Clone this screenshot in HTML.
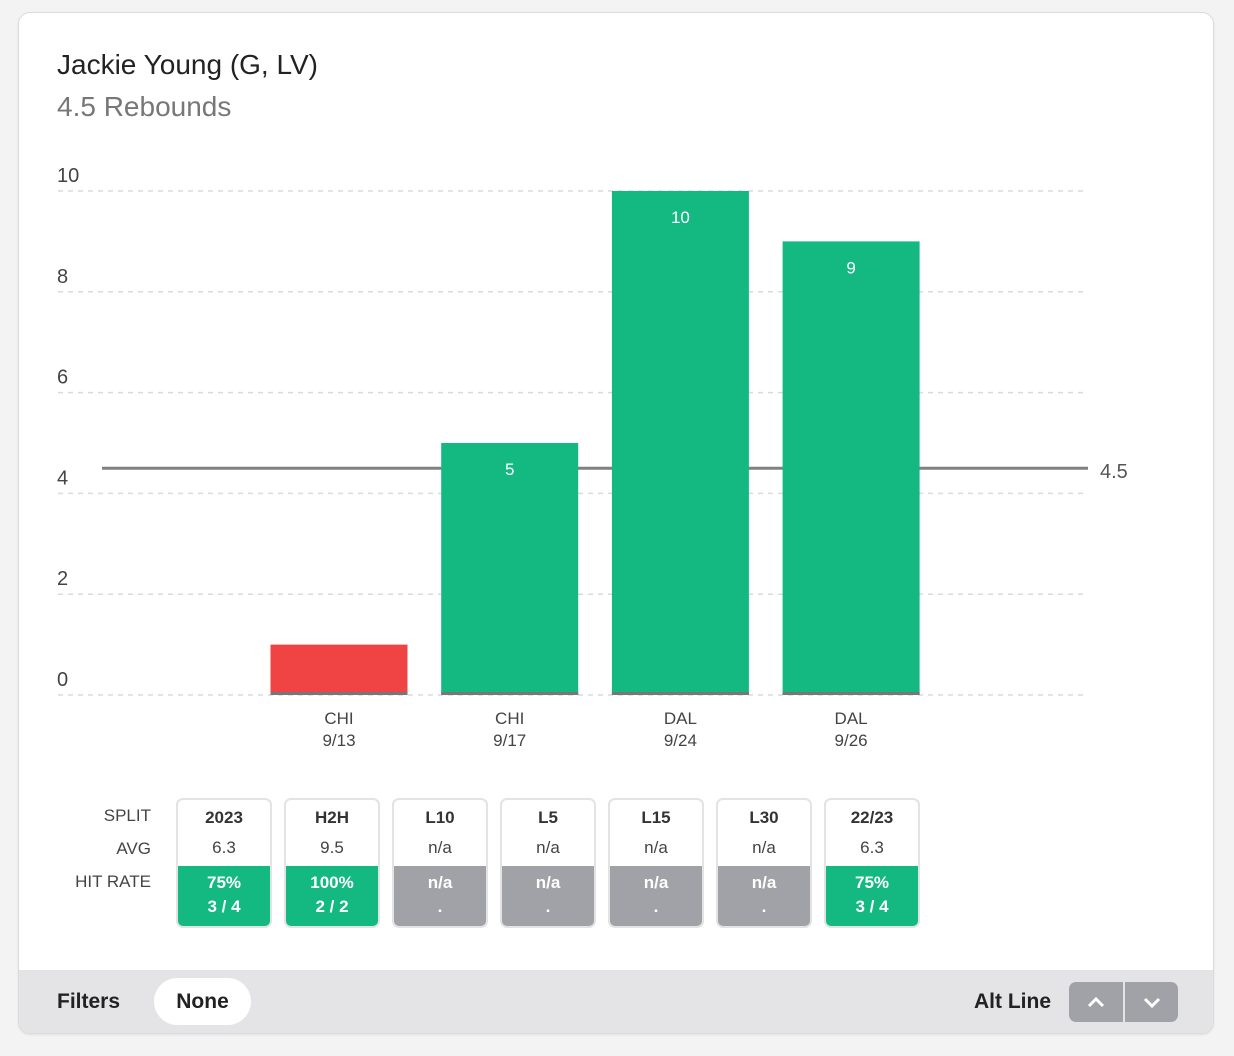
<!DOCTYPE html>
<html><head><meta charset="utf-8"><style>
body{margin:0;width:1234px;height:1056px;background:#f3f3f3;font-family:"Liberation Sans",sans-serif;position:relative;overflow:hidden}
.card{position:absolute;left:18px;top:12px;width:1194px;height:1020px;background:#fff;border:1px solid #dcdcdc;border-radius:12px;overflow:hidden;box-shadow:0 1px 2px rgba(0,0,0,.08)}
.abs{position:absolute}
.box{position:absolute;top:785px;width:92px;height:126px;border:2px solid #e3e3e3;border-radius:7px;overflow:hidden;text-align:center;background:#fff}
.box .h{font-weight:bold;font-size:17px;color:#333;margin-top:8px;height:22px}
.box .a{font-size:17px;color:#444;margin-top:8px;height:28px}
.box .r{position:absolute;left:0;right:0;bottom:0;height:60px;color:#fff;font-size:17px;font-weight:bold;line-height:24px;padding-top:5px;box-sizing:border-box}
.lab{position:absolute;right:1062px;font-size:17px;color:#444;text-align:right}
</style></head><body>
<div class="card">
<div class="abs" style="left:38px;top:36px;font-size:28px;color:#222">Jackie Young (G, LV)</div>
<div class="abs" style="left:38px;top:78px;font-size:28px;color:#777">4.5 Rebounds</div>
<svg id="chart" class="abs" style="left:-18px;top:-12px" width="1234" height="780"></svg>
<div class="lab" style="top:793px">SPLIT</div>
<div class="lab" style="top:826px">AVG</div>
<div class="lab" style="top:859px">HIT RATE</div>
<div id="boxes"></div>
<div class="abs" style="left:0;top:957px;width:1194px;height:63px;background:#e4e4e6">
<div class="abs" style="left:38px;top:20px;font-size:21px;font-weight:bold;color:#222">Filters</div>
<div class="abs" style="left:135px;top:8px;width:97px;height:47px;border-radius:24px;background:#fff;font-size:21px;font-weight:bold;color:#222;text-align:center;line-height:47px">None</div>
<div class="abs" style="left:955px;top:20px;font-size:21px;font-weight:bold;color:#222">Alt Line</div>
<div class="abs" style="left:1050px;top:12px;width:54px;height:40px;background:#a1a1a8;border-radius:7px 0 0 7px"><svg width="54" height="40"><path d="M20 24 L27 17 L34 24" stroke="#fff" stroke-width="3" fill="none"/></svg></div>
<div class="abs" style="left:1106px;top:12px;width:53px;height:40px;background:#a1a1a8;border-radius:0 7px 7px 0"><svg width="53" height="40"><path d="M20 17 L27 24 L34 17" stroke="#fff" stroke-width="3" fill="none"/></svg></div>
</div>
</div>
<script>
const categories=["CHI","CHI","DAL","DAL"];
const dates=["9/13","9/17","9/24","9/26"];
const values=[1,5,10,9];
const yTicks=[0,2,4,6,8,10];
const line=4.5;
const splits=["2023","H2H","L10","L5","L15","L30","22/23"];
const avgs=["6.3","9.5","n/a","n/a","n/a","n/a","6.3"];
const hitPct=["75%","100%","n/a","n/a","n/a","n/a","75%"];
const hitFrac=["3 / 4","2 / 2",".",".",".",".","3 / 4"];
const hitOk=[true,true,null,null,null,null,true];

const ns="http://www.w3.org/2000/svg",svg=document.getElementById('chart');
const y=v=>694-v*50.4, x=i=>338+i*170.7;
function el(t,a,p){const e=document.createElementNS(ns,t);for(const k in a)e.setAttribute(k,a[k]);(p||svg).appendChild(e);return e;}
yTicks.forEach(t=>{
 const g=el('line',{x1:57,x2:1087,y1:y(t),y2:y(t),stroke:'#dadada','stroke-width':1.5,'stroke-dasharray':'5 5'});
 
 
 const tx=el('text',{x:56,y:y(t)-9,'font-size':20,fill:'#444'});tx.textContent=t;
 
 
});
values.forEach((v,i)=>{
 const over=v>line;
 const r=el('rect',{x:x(i)-68.5,y:y(v),width:137,height:y(0)-y(v),fill:over?'#13b981':'#f04444'});
 
 
 el('rect',{x:x(i)-68.5,y:y(0)-3,width:137,height:3,fill:'#777'});
 if(over){const t=el('text',{x:x(i),y:y(v)+32,'font-size':17,fill:'#fff','text-anchor':'middle'});t.textContent=v;
 
 }
 const c=el('text',{x:x(i),y:723,'font-size':17,fill:'#444','text-anchor':'middle'});c.textContent=categories[i];
 
 
 const d=el('text',{x:x(i),y:745,'font-size':17,fill:'#444','text-anchor':'middle'});d.textContent=dates[i];
 
 
});
const ln=el('line',{x1:101,x2:1087,y1:y(line),y2:y(line),stroke:'#808080','stroke-width':3});


svg.insertBefore(ln,svg.querySelector('rect'));
const lt=el('text',{x:1099,y:y(line)+10,'font-size':20,fill:'#555'});lt.textContent=line;



const bx=document.getElementById('boxes');
splits.forEach((s,i)=>{
 const b=document.createElement('div');b.className='box';b.style.left=(157+i*108)+'px';
 
 
 const bg=hitOk[i]===true?'#13b981':'#a1a1a8';
 b.innerHTML='<div class="h">'+s+'</div><div class="a">'+avgs[i]+'</div><div class="r" style="background:'+bg+'">'+hitPct[i]+'<br>'+hitFrac[i]+'</div>';
 bx.appendChild(b);
});
</script>
</body></html>
